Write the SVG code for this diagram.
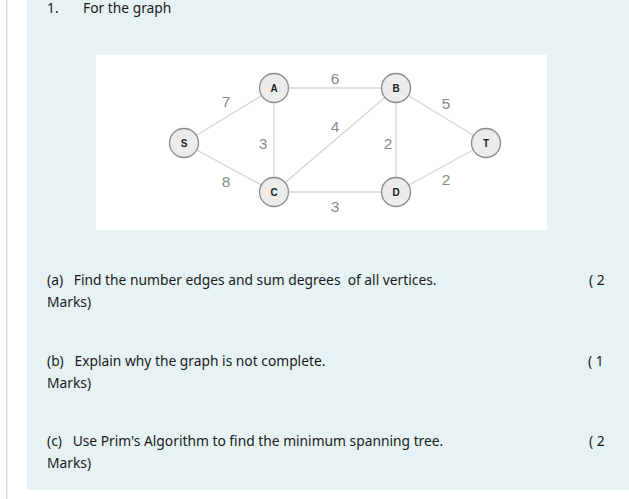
<svg xmlns="http://www.w3.org/2000/svg" width="629" height="499" viewBox="0 0 629 499">
<style>
.t{font-family:"Noto Sans","Open Sans",sans-serif;font-size:13.8px;fill:#1a1a1a;white-space:pre}
.w{font-family:"Liberation Sans",Arial,sans-serif;font-size:15.5px;fill:#8a8a8a;text-anchor:middle}
.n circle{fill:#ececec;stroke:#8c8c8c;stroke-width:1.3}
.n text{font-family:"Liberation Sans",Arial,sans-serif;font-size:10px;font-weight:bold;fill:#222;text-anchor:middle}
.e line{stroke:#d6d6d6;stroke-width:1.3}
</style>
<rect width="629" height="499" fill="#fff"/>
<rect x="6" y="0" width="1.5" height="499" fill="#dcdcdc"/>
<rect x="27" y="0" width="602" height="490" fill="#e6f2f4"/>
<rect x="96" y="55" width="451" height="175" fill="#fff"/>
<text class="t" x="47" y="13">1.</text>
<text class="t" x="83" y="13">For the graph</text>
<g id="connectors" class="e">
<line x1="184" y1="143" x2="274" y2="88"/>
<line x1="184" y1="143" x2="274" y2="192"/>
<line x1="274" y1="88" x2="396" y2="88"/>
<line x1="274" y1="88" x2="274" y2="192"/>
<line x1="274" y1="192" x2="396" y2="88"/>
<line x1="274" y1="192" x2="396" y2="192"/>
<line x1="396" y1="88" x2="396" y2="192"/>
<line x1="396" y1="88" x2="486" y2="143"/>
<line x1="396" y1="192" x2="486" y2="143"/>
</g>
<g id="weights">
<text class="w" x="226" y="107">7</text>
<text class="w" x="226" y="187">8</text>
<text class="w" x="335" y="84">6</text>
<text class="w" x="263" y="149">3</text>
<text class="w" x="335" y="132">4</text>
<text class="w" x="388" y="149">2</text>
<text class="w" x="446" y="109">5</text>
<text class="w" x="446" y="185">2</text>
<text class="w" x="335" y="212">3</text>
</g>
<g id="S" class="n"><circle cx="184" cy="143" r="14.5"/><text x="184" y="147">S</text></g>
<g id="A" class="n"><circle cx="274" cy="88" r="14.5"/><text x="274" y="92">A</text></g>
<g id="B" class="n"><circle cx="396" cy="88" r="14.5"/><text x="396" y="92">B</text></g>
<g id="C" class="n"><circle cx="274" cy="192" r="14.5"/><text x="274" y="196">C</text></g>
<g id="D" class="n"><circle cx="396" cy="192" r="14.5"/><text x="396" y="196">D</text></g>
<g id="T" class="n"><circle cx="486" cy="143" r="14.5"/><text x="486" y="147">T</text></g>
<text class="t" x="47" y="285" xml:space="preserve">(a)   Find the number edges and sum degrees  of all vertices.</text>
<text class="t" x="47" y="307">Marks)</text>
<text class="t" x="589" y="285">( 2</text>
<text class="t" x="47" y="366" xml:space="preserve">(b)   Explain why the graph is not complete.</text>
<text class="t" x="47" y="388">Marks)</text>
<text class="t" x="588" y="366">( 1</text>
<text class="t" x="47" y="446" xml:space="preserve">(c)   Use Prim's Algorithm to find the minimum spanning tree.</text>
<text class="t" x="47" y="468">Marks)</text>
<text class="t" x="589" y="446">( 2</text>
</svg>
